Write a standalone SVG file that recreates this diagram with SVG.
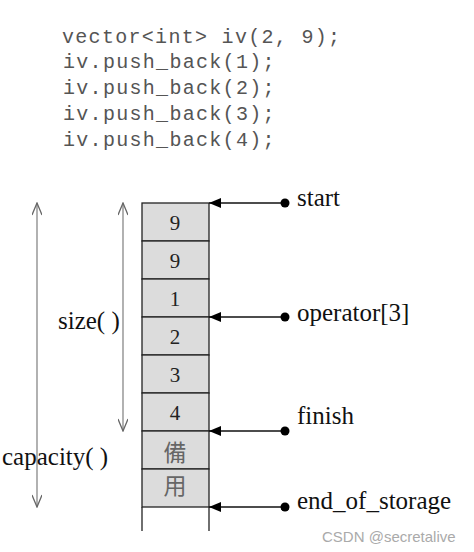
<svg xmlns="http://www.w3.org/2000/svg" width="474" height="552" viewBox="0 0 474 552">
<style>
.code{font-family:"Liberation Mono",monospace;font-size:20px;fill:#555;letter-spacing:1.3px}
.lbl{font-family:"Liberation Serif",serif;font-size:25px;fill:#111}
.num{font-family:"Liberation Serif",serif;font-size:21px;fill:#222;text-anchor:middle}
.cjk{font-family:"Liberation Serif","Noto Sans CJK TC",serif;font-size:23px;fill:#666;text-anchor:middle}
.cell{fill:#dcdcdc;stroke:#222;stroke-width:1.3}
.ptr{stroke:#111;stroke-width:1.3;fill:none}
.dim{stroke:#888;stroke-width:1.3;fill:none}
</style>
<defs>
<marker id="ah" viewBox="0 0 12 10" refX="12" refY="5" markerWidth="12" markerHeight="10" markerUnits="userSpaceOnUse" orient="auto"><path d="M12,5 L0,0 L0,10 Z" fill="#000"/></marker>
<marker id="open" viewBox="0 0 14 10" refX="13" refY="5" markerWidth="14" markerHeight="10" markerUnits="userSpaceOnUse" orient="auto"><path d="M1,0 L13,5 L1,10" fill="none" stroke="#666" stroke-width="1.3"/></marker>
</defs>
<rect width="474" height="552" fill="#fff"/>
<g id="code">
<text class="code" x="62" y="43">vector&lt;int&gt; iv(2, 9);</text>
<text class="code" x="63" y="68">iv.push_back(1);</text>
<text class="code" x="63" y="94">iv.push_back(2);</text>
<text class="code" x="63" y="120">iv.push_back(3);</text>
<text class="code" x="63" y="146">iv.push_back(4);</text>
</g>
<g id="vector">
<rect class="cell" x="142" y="203" width="67" height="38"/>
<rect class="cell" x="142" y="241" width="67" height="38"/>
<rect class="cell" x="142" y="279" width="67" height="38"/>
<rect class="cell" x="142" y="317" width="67" height="38"/>
<rect class="cell" x="142" y="355" width="67" height="38"/>
<rect class="cell" x="142" y="393" width="67" height="38"/>
<rect class="cell" x="142" y="431" width="67" height="38"/>
<rect class="cell" x="142" y="469" width="67" height="38"/>
<line x1="142" y1="507" x2="142" y2="531" stroke="#222" stroke-width="1.3"/>
<line x1="209" y1="507" x2="209" y2="531" stroke="#222" stroke-width="1.3"/>
<text class="num" x="175" y="230">9</text>
<text class="num" x="175" y="268">9</text>
<text class="num" x="175" y="306">1</text>
<text class="num" x="175" y="344">2</text>
<text class="num" x="175" y="382">3</text>
<text class="num" x="175" y="420">4</text>
<text class="cjk" x="175" y="461">備</text>
<text class="cjk" x="175" y="494">用</text>
</g>
<g id="connectors">
<line class="ptr" x1="285" y1="203" x2="209" y2="203" marker-end="url(#ah)"/>
<line class="ptr" x1="285" y1="317" x2="209" y2="317" marker-end="url(#ah)"/>
<line class="ptr" x1="285" y1="431" x2="209" y2="431" marker-end="url(#ah)"/>
<line class="ptr" x1="285" y1="507" x2="209" y2="507" marker-end="url(#ah)"/>
<line class="dim" x1="37" y1="207" x2="37" y2="203" marker-end="url(#open)"/>
<line class="dim" x1="37" y1="207" x2="37" y2="507" marker-end="url(#open)"/>
<line class="dim" x1="123" y1="207" x2="123" y2="203" marker-end="url(#open)"/>
<line class="dim" x1="123" y1="207" x2="123" y2="431" marker-end="url(#open)"/>
</g>
<g id="start"><circle cx="285" cy="203" r="4.5" fill="#000"/><text class="lbl" x="297" y="206">start</text></g>
<g id="operator3"><circle cx="285" cy="317" r="4.5" fill="#000"/><text class="lbl" x="297" y="321">operator[3]</text></g>
<g id="finish"><circle cx="285" cy="431" r="4.5" fill="#000"/><text class="lbl" x="297" y="424">finish</text></g>
<g id="end_of_storage"><circle cx="285" cy="507" r="4.5" fill="#000"/><text class="lbl" x="297" y="509">end_of_storage</text></g>
<g id="size"><text class="lbl" x="58" y="329">size( )</text></g>
<g id="capacity"><text class="lbl" x="2" y="465">capacity( )</text></g>
<text x="322" y="542" font-family="Liberation Sans,sans-serif" font-size="15" fill="#aaa">CSDN @secretalive</text>
</svg>
